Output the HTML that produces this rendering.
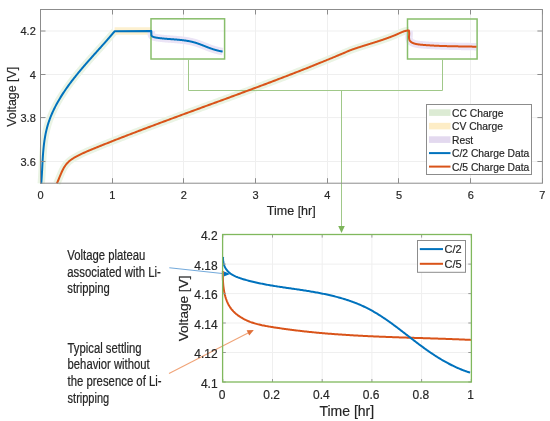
<!DOCTYPE html><html><head><meta charset="utf-8"><title>Voltage plot</title><style>html,body{margin:0;padding:0;background:#fff;}svg{display:block;}text{font-family:'Liberation Sans', Arial, Helvetica, sans-serif;fill:#262626;stroke:#262626;stroke-width:0.18px;} .ann text{stroke-width:0.22px;}</style></head><body>
<svg width="550" height="421" viewBox="0 0 550 421">
<rect x="0" y="0" width="550" height="421" fill="#fff"/>
<path d="M112.5,9.5 V183.2 M183.5,9.5 V183.2 M255.5,9.5 V183.2 M327.5,9.5 V183.2 M398.5,9.5 V183.2 M470.5,9.5 V183.2 M40.5,161.5 H542.4 M40.5,117.6 H542.4 M40.5,74.5 H542.4 M40.5,31.0 H542.4" stroke="#efefef" stroke-width="1" fill="none"/>
<g fill="none" stroke-linejoin="round" stroke-linecap="butt" stroke-width="7.4">
<path d="M41.23,183.55 L41.30,182.69 L41.37,181.83 L41.44,180.96 L41.50,180.09 L41.56,179.22 L41.62,178.35 L41.68,177.48 L41.73,176.61 L41.79,175.73 L41.84,174.86 L41.89,173.98 L41.94,173.10 L41.99,172.22 L42.03,171.35 L42.08,170.46 L42.13,169.58 L42.17,168.70 L42.22,167.82 L42.26,166.94 L42.31,166.05 L42.36,165.17 L42.40,164.28 L42.45,163.40 L42.50,162.51 L42.55,161.63 L42.60,160.74 L42.65,159.86 L42.70,158.97 L42.76,158.08 L42.81,157.20 L42.87,156.31 L42.93,155.43 L43.00,154.54 L43.06,153.66 L43.13,152.77 L43.20,151.89 L43.28,151.01 L43.36,150.12 L43.44,149.24 L43.52,148.36 L43.61,147.48 L43.70,146.60 L43.80,145.72 L43.90,144.84 L44.00,143.96 L44.11,143.09 L44.23,142.21 L44.35,141.34 L44.47,140.46 L44.60,139.59 L44.74,138.72 L44.88,137.85 L45.03,136.99 L45.18,136.12 L45.34,135.26 L45.50,134.39 L45.67,133.53 L45.85,132.67 L46.04,131.82 L46.23,130.96 L46.43,130.11 L46.63,129.26 L46.85,128.41 L47.07,127.56 L47.30,126.72 L47.53,125.87 L47.78,125.03 L48.03,124.20 L48.29,123.36 L48.56,122.53 L48.84,121.70 L49.12,120.87 L49.42,120.04 L49.72,119.22 L50.02,118.40 L50.34,117.58 L50.66,116.76 L50.99,115.95 L51.32,115.14 L51.66,114.33 L52.01,113.52 L52.37,112.72 L52.73,111.91 L53.09,111.11 L53.47,110.32 L53.85,109.52 L54.23,108.73 L54.63,107.94 L55.02,107.15 L55.43,106.37 L55.83,105.59 L56.25,104.81 L56.67,104.03 L57.09,103.25 L57.52,102.48 L57.96,101.71 L58.40,100.94 L58.84,100.18 L59.29,99.42 L59.74,98.66 L60.20,97.90 L60.66,97.14 L61.13,96.39 L61.60,95.64 L62.07,94.90 L62.55,94.15 L63.03,93.41 L63.52,92.67 L64.01,91.93 L64.50,91.20 L64.99,90.47 L65.49,89.74 L65.99,89.01 L66.50,88.29 L67.01,87.56 L67.52,86.85 L68.03,86.13 L68.55,85.41 L69.07,84.70 L69.59,83.99 L70.11,83.28 L70.64,82.58 L71.17,81.88 L71.70,81.17 L72.24,80.47 L72.77,79.78 L73.31,79.08 L73.86,78.39 L74.40,77.70 L74.95,77.01 L75.49,76.32 L76.05,75.63 L76.60,74.95 L77.15,74.26 L77.71,73.58 L78.27,72.90 L78.83,72.22 L79.39,71.55 L79.95,70.87 L80.52,70.19 L81.08,69.52 L81.65,68.85 L82.22,68.18 L82.79,67.51 L83.36,66.84 L83.94,66.17 L84.51,65.51 L85.09,64.84 L85.67,64.18 L86.24,63.51 L86.82,62.85 L87.40,62.19 L87.98,61.53 L88.57,60.87 L89.15,60.21 L89.73,59.55 L90.32,58.89 L90.90,58.23 L91.49,57.57 L92.07,56.91 L92.66,56.26 L93.25,55.60 L93.83,54.94 L94.42,54.29 L95.01,53.63 L95.60,52.98 L96.19,52.32 L96.77,51.67 L97.36,51.01 L97.95,50.36 L98.54,49.70 L99.13,49.04 L99.72,48.39 L100.30,47.73 L100.89,47.08 L101.48,46.42 L102.06,45.76 L102.65,45.11 L103.24,44.45 L103.82,43.79 L104.41,43.13 L104.99,42.47 L105.57,41.81 L106.16,41.15 L106.74,40.49 L107.32,39.83 L107.90,39.17 L108.48,38.50 L109.05,37.84 L109.63,37.17 L110.21,36.51 L110.78,35.84 L111.35,35.17 L111.92,34.50 L112.49,33.83 L113.06,33.16 L113.63,32.49 L114.20,31.81 L114.76,31.14" stroke="#eaf4e4"/>
<path d="M56.82,183.41 L57.50,181.98 L58.16,180.50 L58.80,178.99 L59.43,177.45 L60.07,175.90 L60.71,174.34 L61.38,172.78 L62.08,171.25 L62.82,169.74 L63.60,168.27 L64.45,166.85 L65.36,165.49 L66.35,164.20 L67.41,162.98 L68.55,161.84 L69.76,160.77 L71.04,159.78 L72.38,158.86 L73.77,157.99 L75.19,157.17 L76.64,156.38 L78.09,155.62 L79.56,154.87 L81.04,154.15 L82.52,153.44 L84.02,152.75 L85.52,152.07 L87.02,151.41 L88.54,150.76 L90.06,150.11 L91.58,149.48 L93.10,148.85 L94.63,148.23 L96.16,147.61 L97.69,146.99 L99.22,146.38 L100.75,145.76 L102.28,145.15 L103.81,144.54 L105.34,143.93 L106.88,143.32 L108.41,142.71 L109.94,142.11 L111.48,141.50 L113.01,140.90 L114.55,140.29 L116.08,139.69 L117.62,139.09 L119.15,138.49 L120.69,137.90 L122.22,137.30 L123.76,136.70 L125.30,136.11 L126.84,135.52 L128.37,134.92 L129.91,134.33 L131.45,133.74 L132.99,133.15 L134.53,132.56 L136.07,131.98 L137.61,131.39 L139.15,130.80 L140.69,130.22 L142.23,129.63 L143.77,129.05 L145.31,128.47 L146.85,127.89 L148.39,127.31 L149.94,126.73 L151.48,126.15 L153.02,125.57 L154.56,124.99 L156.11,124.41 L157.65,123.84 L159.19,123.26 L160.74,122.68 L162.28,122.11 L163.82,121.54 L165.37,120.96 L166.91,120.39 L168.46,119.82 L170.00,119.24 L171.55,118.67 L173.09,118.10 L174.64,117.53 L176.18,116.96 L177.73,116.39 L179.27,115.82 L180.82,115.25 L182.36,114.68 L183.91,114.12 L185.45,113.55 L187.00,112.98 L188.55,112.41 L190.09,111.84 L191.64,111.28 L193.19,110.71 L194.73,110.14 L196.28,109.58 L197.82,109.01 L199.37,108.45 L200.92,107.88 L202.46,107.31 L204.01,106.75 L205.56,106.18 L207.10,105.62 L208.65,105.05 L210.19,104.48 L211.74,103.92 L213.29,103.35 L214.83,102.79 L216.38,102.22 L217.93,101.65 L219.47,101.09 L221.02,100.52 L222.56,99.95 L224.11,99.39 L225.66,98.82 L227.20,98.25 L228.75,97.69 L230.29,97.12 L231.84,96.55 L233.38,95.98 L234.93,95.41 L236.47,94.84 L238.02,94.27 L239.56,93.70 L241.11,93.13 L242.65,92.56 L244.20,91.99 L245.74,91.42 L247.28,90.85 L248.83,90.28 L250.37,89.70 L251.92,89.13 L253.46,88.56 L255.00,87.98 L256.54,87.41 L258.09,86.83 L259.63,86.25 L261.17,85.68 L262.71,85.10 L264.25,84.52 L265.80,83.94 L267.34,83.36 L268.88,82.78 L270.42,82.20 L271.96,81.61 L273.50,81.03 L275.04,80.45 L276.58,79.86 L278.11,79.28 L279.65,78.69 L281.19,78.10 L282.73,77.51 L284.27,76.92 L285.80,76.33 L287.34,75.74 L288.88,75.15 L290.41,74.55 L291.95,73.96 L293.49,73.36 L295.02,72.77 L296.55,72.17 L298.09,71.57 L299.62,70.97 L301.16,70.37 L302.69,69.77 L304.22,69.16 L305.75,68.56 L307.29,67.95 L308.82,67.34 L310.35,66.73 L311.88,66.12 L313.41,65.51 L314.94,64.90 L316.47,64.28 L317.99,63.67 L319.52,63.05 L321.05,62.43 L322.58,61.81 L324.10,61.19 L325.63,60.57 L327.15,59.94 L328.68,59.32 L330.20,58.69 L331.73,58.06 L333.25,57.43 L334.77,56.80 L336.29,56.16 L337.82,55.53 L339.34,54.89 L340.86,54.25 L342.38,53.61 L343.90,52.97 L345.41,52.32 L346.93,51.68 L348.45,51.03 L349.96,50.38 L350.25,50.25 L350.55,50.14 L350.84,50.04 L351.13,49.93 L351.43,49.83 L351.72,49.72 L352.02,49.62 L352.31,49.51 L352.61,49.41 L352.90,49.31 L353.20,49.21 L353.49,49.10 L353.79,49.00 L354.09,48.90 L354.38,48.80 L354.68,48.70 L354.98,48.60 L355.27,48.50 L355.57,48.40 L355.87,48.30 L356.16,48.20 L356.46,48.10 L356.76,48.00 L357.05,47.90 L357.35,47.80 L357.65,47.70 L357.95,47.61 L358.25,47.51 L358.54,47.41 L358.84,47.32 L359.14,47.22 L359.44,47.12 L359.74,47.03 L360.04,46.93 L360.33,46.84 L360.63,46.74 L360.93,46.64 L361.23,46.55 L361.53,46.45 L361.83,46.36 L362.13,46.27 L362.43,46.17 L362.73,46.08 L363.03,45.98 L363.33,45.89 L363.63,45.79 L363.93,45.70 L364.22,45.61 L364.52,45.51 L364.82,45.42 L365.12,45.33 L365.42,45.23 L365.72,45.14 L366.02,45.05 L366.32,44.95 L366.62,44.86 L366.92,44.77 L367.22,44.68 L367.52,44.58 L367.82,44.49 L368.12,44.40 L368.42,44.30 L368.72,44.21 L369.02,44.12 L369.33,44.03 L369.63,43.93 L369.93,43.84 L370.23,43.75 L370.53,43.65 L370.83,43.56 L371.13,43.47 L371.43,43.38 L371.73,43.28 L372.03,43.19 L372.33,43.10 L372.63,43.00 L372.93,42.91 L373.23,42.82 L373.53,42.72 L373.83,42.63 L374.13,42.54 L374.43,42.44 L374.73,42.35 L375.03,42.25 L375.33,42.16 L375.63,42.06 L375.93,41.97 L376.22,41.87 L376.52,41.78 L376.82,41.68 L377.12,41.59 L377.42,41.49 L377.72,41.40 L378.02,41.30 L378.32,41.20 L378.62,41.11 L378.92,41.01 L379.22,40.91 L379.51,40.82 L379.81,40.72 L380.11,40.62 L380.41,40.52 L380.71,40.42 L381.01,40.33 L381.30,40.23 L381.60,40.13 L381.90,40.03 L382.20,39.93 L382.50,39.83 L382.79,39.73 L383.09,39.63 L383.39,39.52 L383.68,39.42 L383.98,39.32 L384.28,39.22 L384.57,39.12 L384.87,39.01 L385.17,38.91 L385.46,38.80 L385.76,38.70 L386.06,38.60 L386.35,38.49 L386.65,38.38 L386.94,38.28 L387.24,38.17 L387.53,38.07 L387.83,37.96 L388.12,37.85 L388.42,37.74 L388.71,37.63 L389.00,37.52 L389.30,37.41 L389.59,37.30 L389.88,37.19 L390.18,37.08 L390.47,36.97 L390.76,36.86 L391.06,36.74 L391.35,36.63 L391.64,36.52 L391.93,36.40 L392.22,36.29 L392.52,36.17 L392.81,36.05 L393.10,35.94 L393.39,35.82 L393.68,35.70 L393.97,35.58 L394.26,35.46 L394.55,35.34 L394.84,35.22 L395.13,35.10 L395.42,34.98 L395.71,34.86 L396.00,34.73 L396.28,34.61 L396.57,34.49 L396.86,34.36 L397.15,34.23 L397.43,34.11 L397.72,33.98 L398.01,33.85 L398.29,33.72 L398.58,33.59 L398.87,33.46 L399.15,33.33 L399.44,33.20 L399.72,33.07 L400.01,32.94 L400.29,32.81 L400.58,32.68 L400.87,32.56 L401.15,32.43 L401.44,32.31 L401.72,32.19 L402.01,32.07 L402.30,31.95 L402.59,31.83 L402.88,31.72 L403.17,31.61 L403.46,31.51 L403.75,31.41 L404.05,31.31 L404.34,31.22 L404.64,31.13 L404.93,31.05 L405.23,30.97 L405.53,30.90 L405.83,30.84 L406.13,30.78 L406.44,30.72 L406.74,30.68 L407.05,30.64 L407.36,30.60 L407.67,30.58 L407.98,30.56 L408.30,30.55 L408.62,30.55 L408.94,30.55" stroke="#eaf4e4"/>
<path d="M114.6,31 H151.3" stroke="#fdf0cf"/>
<path d="M151.30,31.00 L151.38,34.50 L151.37,34.70 L151.37,34.89 L151.40,35.08 L151.45,35.26 L151.52,35.43 L151.60,35.59 L151.70,35.75 L151.82,35.90 L151.95,36.04 L152.10,36.17 L152.26,36.30 L152.44,36.42 L152.63,36.54 L152.83,36.65 L153.04,36.75 L153.27,36.85 L153.50,36.94 L153.74,37.03 L154.00,37.11 L154.26,37.19 L154.53,37.26 L154.80,37.33 L155.09,37.40 L155.37,37.46 L155.67,37.52 L155.97,37.57 L156.27,37.63 L156.57,37.68 L156.88,37.73 L157.18,37.78 L157.49,37.82 L157.80,37.87 L158.11,37.91 L158.42,37.96 L158.73,38.00 L159.03,38.04 L159.34,38.08 L159.65,38.12 L159.96,38.16 L160.27,38.20 L160.58,38.23 L160.88,38.27 L161.19,38.30 L161.50,38.34 L161.81,38.37 L162.11,38.40 L162.42,38.44 L162.73,38.47 L163.04,38.50 L163.34,38.53 L163.65,38.56 L163.96,38.59 L164.27,38.62 L164.57,38.64 L164.88,38.67 L165.19,38.70 L165.50,38.72 L165.80,38.75 L166.11,38.78 L166.42,38.80 L166.73,38.83 L167.03,38.85 L167.34,38.88 L167.65,38.90 L167.96,38.92 L168.27,38.95 L168.57,38.97 L168.88,38.99 L169.19,39.02 L169.50,39.04 L169.81,39.06 L170.12,39.09 L170.42,39.11 L170.73,39.13 L171.04,39.15 L171.35,39.18 L171.66,39.20 L171.97,39.22 L172.28,39.24 L172.59,39.27 L172.90,39.29 L173.21,39.31 L173.52,39.34 L173.83,39.36 L174.15,39.39 L174.46,39.41 L174.77,39.43 L175.08,39.46 L175.39,39.48 L175.71,39.51 L176.02,39.53 L176.33,39.56 L176.64,39.59 L176.96,39.61 L177.27,39.64 L177.58,39.67 L177.90,39.70 L178.21,39.73 L178.52,39.76 L178.84,39.79 L179.15,39.82 L179.46,39.85 L179.78,39.88 L180.09,39.91 L180.40,39.94 L180.71,39.98 L181.02,40.01 L181.34,40.04 L181.65,40.08 L181.96,40.12 L182.27,40.15 L182.58,40.19 L182.89,40.23 L183.20,40.27 L183.51,40.30 L183.82,40.34 L184.12,40.39 L184.43,40.43 L184.74,40.47 L185.04,40.51 L185.35,40.56 L185.65,40.60 L185.96,40.65 L186.26,40.69 L186.56,40.74 L186.86,40.79 L187.16,40.84 L187.46,40.89 L187.76,40.94 L188.06,40.99 L188.36,41.05 L188.66,41.10 L188.95,41.16 L189.25,41.21 L189.54,41.27 L189.83,41.33 L190.12,41.39 L190.41,41.45 L190.70,41.51 L190.99,41.57 L191.28,41.64 L191.56,41.70 L191.84,41.77 L192.13,41.84 L192.41,41.91 L192.69,41.98 L192.97,42.05 L193.24,42.12 L193.52,42.19 L193.80,42.27 L194.07,42.35 L194.34,42.42 L194.61,42.50 L194.88,42.58 L195.15,42.66 L195.42,42.74 L195.69,42.82 L195.95,42.90 L196.22,42.99 L196.48,43.07 L196.75,43.16 L197.01,43.24 L197.27,43.33 L197.53,43.42 L197.79,43.51 L198.05,43.60 L198.31,43.69 L198.57,43.78 L198.82,43.87 L199.08,43.96 L199.33,44.05 L199.59,44.15 L199.84,44.24 L200.10,44.33 L200.35,44.43 L200.60,44.52 L200.86,44.62 L201.11,44.71 L201.36,44.81 L201.61,44.91 L201.86,45.00 L202.11,45.10 L202.37,45.20 L202.62,45.29 L202.87,45.39 L203.12,45.49 L203.37,45.59 L203.62,45.69 L203.86,45.79 L204.11,45.88 L204.36,45.98 L204.61,46.08 L204.86,46.18 L205.11,46.28 L205.36,46.38 L205.61,46.48 L205.86,46.57 L206.11,46.67 L206.36,46.77 L206.61,46.87 L206.86,46.97 L207.11,47.06 L207.36,47.16 L207.62,47.26 L207.87,47.35 L208.12,47.45 L208.37,47.55 L208.63,47.64 L208.88,47.74 L209.13,47.83 L209.39,47.93 L209.64,48.02 L209.90,48.12 L210.15,48.21 L210.41,48.30 L210.67,48.39 L210.93,48.48 L211.19,48.57 L211.45,48.66 L211.71,48.75 L211.97,48.84 L212.23,48.93 L212.49,49.02 L212.76,49.11 L213.02,49.19 L213.29,49.28 L213.55,49.36 L213.82,49.45 L214.09,49.53 L214.36,49.61 L214.63,49.69 L214.90,49.77 L215.17,49.85 L215.44,49.93 L215.72,50.01 L215.99,50.09 L216.27,50.16 L216.54,50.24 L216.82,50.31 L217.10,50.38 L217.38,50.46 L217.66,50.53 L217.95,50.60 L218.23,50.66 L218.52,50.73 L218.80,50.80 L219.09,50.86 L219.38,50.93 L219.67,50.99 L219.96,51.05 L220.26,51.11 L220.55,51.17 L220.85,51.23 L221.15,51.29 L221.45,51.34 L221.75,51.40 L222.05,51.45 L222.35,51.50 L222.66,51.55" stroke="#ebe4f6"/>
<path d="M409.00,30.80 L409.20,33.50 L409.02,36.58 L409.01,36.71 L409.01,36.85 L409.01,36.98 L409.00,37.12 L409.01,37.26 L409.01,37.39 L409.01,37.53 L409.02,37.68 L409.03,37.82 L409.04,37.96 L409.05,38.10 L409.07,38.24 L409.09,38.39 L409.11,38.53 L409.13,38.68 L409.16,38.82 L409.19,38.96 L409.23,39.11 L409.26,39.25 L409.30,39.39 L409.35,39.54 L409.40,39.68 L409.45,39.82 L409.51,39.96 L409.57,40.10 L409.64,40.24 L409.71,40.37 L409.78,40.51 L409.86,40.64 L409.95,40.77 L410.04,40.91 L410.13,41.04 L410.23,41.16 L410.34,41.29 L410.45,41.41 L410.57,41.53 L410.69,41.65 L410.82,41.77 L410.96,41.89 L411.10,42.00 L411.25,42.11 L411.40,42.22 L411.56,42.32 L411.73,42.42 L411.90,42.52 L412.08,42.62 L412.26,42.71 L412.45,42.81 L412.64,42.89 L412.83,42.98 L413.03,43.07 L413.24,43.15 L413.45,43.23 L413.66,43.31 L413.87,43.38 L414.09,43.46 L414.31,43.53 L414.54,43.59 L414.77,43.66 L415.00,43.72 L415.23,43.79 L415.46,43.85 L415.70,43.90 L415.94,43.96 L416.18,44.01 L416.42,44.06 L416.66,44.11 L416.91,44.16 L417.15,44.20 L417.40,44.24 L417.64,44.29 L417.89,44.32 L418.14,44.36 L418.39,44.40 L418.64,44.43 L418.89,44.47 L419.15,44.50 L419.40,44.53 L419.65,44.56 L419.91,44.59 L420.16,44.62 L420.42,44.64 L420.68,44.67 L420.93,44.70 L421.19,44.72 L421.45,44.74 L421.70,44.77 L421.96,44.79 L422.22,44.81 L422.48,44.84 L422.73,44.86 L422.99,44.88 L423.25,44.90 L423.51,44.92 L423.77,44.94 L424.02,44.97 L424.28,44.99 L424.54,45.01 L424.80,45.03 L425.05,45.05 L425.31,45.07 L425.57,45.09 L425.83,45.11 L426.09,45.13 L426.34,45.14 L426.60,45.16 L426.86,45.18 L427.12,45.20 L427.37,45.22 L427.63,45.24 L427.89,45.25 L428.15,45.27 L428.41,45.29 L428.66,45.31 L428.92,45.32 L429.18,45.34 L429.44,45.36 L429.69,45.37 L429.95,45.39 L430.21,45.41 L430.47,45.42 L430.73,45.44 L430.98,45.45 L431.24,45.47 L431.50,45.48 L431.76,45.50 L432.02,45.51 L432.27,45.53 L432.53,45.54 L432.79,45.56 L433.05,45.57 L433.31,45.59 L433.56,45.60 L433.82,45.61 L434.08,45.63 L434.34,45.64 L434.60,45.65 L434.85,45.67 L435.11,45.68 L435.37,45.69 L435.63,45.70 L435.89,45.72 L436.14,45.73 L436.40,45.74 L436.66,45.75 L436.92,45.77 L437.18,45.78 L437.43,45.79 L437.69,45.80 L437.95,45.81 L438.21,45.82 L438.47,45.83 L438.72,45.84 L438.98,45.85 L439.24,45.87 L439.50,45.88 L439.76,45.89 L440.01,45.90 L440.27,45.91 L440.53,45.92 L440.79,45.93 L441.05,45.94 L441.30,45.94 L441.56,45.95 L441.82,45.96 L442.08,45.97 L442.34,45.98 L442.60,45.99 L442.85,46.00 L443.11,46.01 L443.37,46.02 L443.63,46.03 L443.89,46.03 L444.14,46.04 L444.40,46.05 L444.66,46.06 L444.92,46.07 L445.18,46.07 L445.44,46.08 L445.69,46.09 L445.95,46.10 L446.21,46.10 L446.47,46.11 L446.73,46.12 L446.99,46.13 L447.24,46.13 L447.50,46.14 L447.76,46.15 L448.02,46.15 L448.28,46.16 L448.54,46.17 L448.79,46.17 L449.05,46.18 L449.31,46.19 L449.57,46.19 L449.83,46.20 L450.09,46.21 L450.34,46.21 L450.60,46.22 L450.86,46.22 L451.12,46.23 L451.38,46.24 L451.64,46.24 L451.89,46.25 L452.15,46.25 L452.41,46.26 L452.67,46.26 L452.93,46.27 L453.19,46.28 L453.45,46.28 L453.70,46.29 L453.96,46.29 L454.22,46.30 L454.48,46.30 L454.74,46.31 L455.00,46.31 L455.26,46.32 L455.51,46.32 L455.77,46.33 L456.03,46.33 L456.29,46.34 L456.55,46.34 L456.81,46.35 L457.07,46.35 L457.32,46.36 L457.58,46.36 L457.84,46.37 L458.10,46.37 L458.36,46.38 L458.62,46.38 L458.88,46.38 L459.14,46.39 L459.39,46.39 L459.65,46.40 L459.91,46.40 L460.17,46.41 L460.43,46.41 L460.69,46.42 L460.95,46.42 L461.21,46.43 L461.46,46.43 L461.72,46.43 L461.98,46.44 L462.24,46.44 L462.50,46.45 L462.76,46.45 L463.02,46.46 L463.28,46.46 L463.54,46.47 L463.79,46.47 L464.05,46.47 L464.31,46.48 L464.57,46.48 L464.83,46.49 L465.09,46.49 L465.35,46.50 L465.61,46.50 L465.87,46.51 L466.13,46.51 L466.38,46.52 L466.64,46.52 L466.90,46.52 L467.16,46.53 L467.42,46.53 L467.68,46.54 L467.94,46.54 L468.20,46.55 L468.46,46.55 L468.72,46.56 L468.98,46.56 L469.23,46.57 L469.49,46.57 L469.75,46.58 L470.01,46.58 L470.27,46.59 L470.53,46.59 L470.79,46.60 L471.05,46.60 L471.31,46.61 L471.57,46.61 L471.83,46.62 L472.09,46.62 L472.35,46.63 L472.61,46.64 L472.86,46.64 L473.12,46.65 L473.38,46.65 L473.64,46.66 L473.90,46.66 L474.16,46.67 L474.42,46.68 L474.68,46.68 L474.94,46.69 L475.20,46.69 L475.46,46.70 L475.72,46.71 L475.98,46.71 L476.24,46.72 L476.50,46.73" stroke="#ebe4f6"/>
</g>
<g fill="none" stroke="#88be6b">
<rect x="151" y="18.8" width="73.6" height="40.2" stroke-width="1.5"/>
<rect x="407.5" y="19.0" width="69.6" height="40" stroke-width="1.5"/>
<path d="M188.5,59.8 V90.5 H442.5 V59.8 M341.5,90.5 V227" stroke-width="1" stroke="#a0c889"/>
</g>
<g fill="none" stroke-linejoin="round" stroke-width="2">
<path d="M41.23,183.55 L41.30,182.69 L41.37,181.83 L41.44,180.96 L41.50,180.09 L41.56,179.22 L41.62,178.35 L41.68,177.48 L41.73,176.61 L41.79,175.73 L41.84,174.86 L41.89,173.98 L41.94,173.10 L41.99,172.22 L42.03,171.35 L42.08,170.46 L42.13,169.58 L42.17,168.70 L42.22,167.82 L42.26,166.94 L42.31,166.05 L42.36,165.17 L42.40,164.28 L42.45,163.40 L42.50,162.51 L42.55,161.63 L42.60,160.74 L42.65,159.86 L42.70,158.97 L42.76,158.08 L42.81,157.20 L42.87,156.31 L42.93,155.43 L43.00,154.54 L43.06,153.66 L43.13,152.77 L43.20,151.89 L43.28,151.01 L43.36,150.12 L43.44,149.24 L43.52,148.36 L43.61,147.48 L43.70,146.60 L43.80,145.72 L43.90,144.84 L44.00,143.96 L44.11,143.09 L44.23,142.21 L44.35,141.34 L44.47,140.46 L44.60,139.59 L44.74,138.72 L44.88,137.85 L45.03,136.99 L45.18,136.12 L45.34,135.26 L45.50,134.39 L45.67,133.53 L45.85,132.67 L46.04,131.82 L46.23,130.96 L46.43,130.11 L46.63,129.26 L46.85,128.41 L47.07,127.56 L47.30,126.72 L47.53,125.87 L47.78,125.03 L48.03,124.20 L48.29,123.36 L48.56,122.53 L48.84,121.70 L49.12,120.87 L49.42,120.04 L49.72,119.22 L50.02,118.40 L50.34,117.58 L50.66,116.76 L50.99,115.95 L51.32,115.14 L51.66,114.33 L52.01,113.52 L52.37,112.72 L52.73,111.91 L53.09,111.11 L53.47,110.32 L53.85,109.52 L54.23,108.73 L54.63,107.94 L55.02,107.15 L55.43,106.37 L55.83,105.59 L56.25,104.81 L56.67,104.03 L57.09,103.25 L57.52,102.48 L57.96,101.71 L58.40,100.94 L58.84,100.18 L59.29,99.42 L59.74,98.66 L60.20,97.90 L60.66,97.14 L61.13,96.39 L61.60,95.64 L62.07,94.90 L62.55,94.15 L63.03,93.41 L63.52,92.67 L64.01,91.93 L64.50,91.20 L64.99,90.47 L65.49,89.74 L65.99,89.01 L66.50,88.29 L67.01,87.56 L67.52,86.85 L68.03,86.13 L68.55,85.41 L69.07,84.70 L69.59,83.99 L70.11,83.28 L70.64,82.58 L71.17,81.88 L71.70,81.17 L72.24,80.47 L72.77,79.78 L73.31,79.08 L73.86,78.39 L74.40,77.70 L74.95,77.01 L75.49,76.32 L76.05,75.63 L76.60,74.95 L77.15,74.26 L77.71,73.58 L78.27,72.90 L78.83,72.22 L79.39,71.55 L79.95,70.87 L80.52,70.19 L81.08,69.52 L81.65,68.85 L82.22,68.18 L82.79,67.51 L83.36,66.84 L83.94,66.17 L84.51,65.51 L85.09,64.84 L85.67,64.18 L86.24,63.51 L86.82,62.85 L87.40,62.19 L87.98,61.53 L88.57,60.87 L89.15,60.21 L89.73,59.55 L90.32,58.89 L90.90,58.23 L91.49,57.57 L92.07,56.91 L92.66,56.26 L93.25,55.60 L93.83,54.94 L94.42,54.29 L95.01,53.63 L95.60,52.98 L96.19,52.32 L96.77,51.67 L97.36,51.01 L97.95,50.36 L98.54,49.70 L99.13,49.04 L99.72,48.39 L100.30,47.73 L100.89,47.08 L101.48,46.42 L102.06,45.76 L102.65,45.11 L103.24,44.45 L103.82,43.79 L104.41,43.13 L104.99,42.47 L105.57,41.81 L106.16,41.15 L106.74,40.49 L107.32,39.83 L107.90,39.17 L108.48,38.50 L109.05,37.84 L109.63,37.17 L110.21,36.51 L110.78,35.84 L111.35,35.17 L111.92,34.50 L112.49,33.83 L113.06,33.16 L113.63,32.49 L114.20,31.81 L114.76,31.14 L151.30,31.00 L151.38,34.50 L151.37,34.70 L151.37,34.89 L151.40,35.08 L151.45,35.26 L151.52,35.43 L151.60,35.59 L151.70,35.75 L151.82,35.90 L151.95,36.04 L152.10,36.17 L152.26,36.30 L152.44,36.42 L152.63,36.54 L152.83,36.65 L153.04,36.75 L153.27,36.85 L153.50,36.94 L153.74,37.03 L154.00,37.11 L154.26,37.19 L154.53,37.26 L154.80,37.33 L155.09,37.40 L155.37,37.46 L155.67,37.52 L155.97,37.57 L156.27,37.63 L156.57,37.68 L156.88,37.73 L157.18,37.78 L157.49,37.82 L157.80,37.87 L158.11,37.91 L158.42,37.96 L158.73,38.00 L159.03,38.04 L159.34,38.08 L159.65,38.12 L159.96,38.16 L160.27,38.20 L160.58,38.23 L160.88,38.27 L161.19,38.30 L161.50,38.34 L161.81,38.37 L162.11,38.40 L162.42,38.44 L162.73,38.47 L163.04,38.50 L163.34,38.53 L163.65,38.56 L163.96,38.59 L164.27,38.62 L164.57,38.64 L164.88,38.67 L165.19,38.70 L165.50,38.72 L165.80,38.75 L166.11,38.78 L166.42,38.80 L166.73,38.83 L167.03,38.85 L167.34,38.88 L167.65,38.90 L167.96,38.92 L168.27,38.95 L168.57,38.97 L168.88,38.99 L169.19,39.02 L169.50,39.04 L169.81,39.06 L170.12,39.09 L170.42,39.11 L170.73,39.13 L171.04,39.15 L171.35,39.18 L171.66,39.20 L171.97,39.22 L172.28,39.24 L172.59,39.27 L172.90,39.29 L173.21,39.31 L173.52,39.34 L173.83,39.36 L174.15,39.39 L174.46,39.41 L174.77,39.43 L175.08,39.46 L175.39,39.48 L175.71,39.51 L176.02,39.53 L176.33,39.56 L176.64,39.59 L176.96,39.61 L177.27,39.64 L177.58,39.67 L177.90,39.70 L178.21,39.73 L178.52,39.76 L178.84,39.79 L179.15,39.82 L179.46,39.85 L179.78,39.88 L180.09,39.91 L180.40,39.94 L180.71,39.98 L181.02,40.01 L181.34,40.04 L181.65,40.08 L181.96,40.12 L182.27,40.15 L182.58,40.19 L182.89,40.23 L183.20,40.27 L183.51,40.30 L183.82,40.34 L184.12,40.39 L184.43,40.43 L184.74,40.47 L185.04,40.51 L185.35,40.56 L185.65,40.60 L185.96,40.65 L186.26,40.69 L186.56,40.74 L186.86,40.79 L187.16,40.84 L187.46,40.89 L187.76,40.94 L188.06,40.99 L188.36,41.05 L188.66,41.10 L188.95,41.16 L189.25,41.21 L189.54,41.27 L189.83,41.33 L190.12,41.39 L190.41,41.45 L190.70,41.51 L190.99,41.57 L191.28,41.64 L191.56,41.70 L191.84,41.77 L192.13,41.84 L192.41,41.91 L192.69,41.98 L192.97,42.05 L193.24,42.12 L193.52,42.19 L193.80,42.27 L194.07,42.35 L194.34,42.42 L194.61,42.50 L194.88,42.58 L195.15,42.66 L195.42,42.74 L195.69,42.82 L195.95,42.90 L196.22,42.99 L196.48,43.07 L196.75,43.16 L197.01,43.24 L197.27,43.33 L197.53,43.42 L197.79,43.51 L198.05,43.60 L198.31,43.69 L198.57,43.78 L198.82,43.87 L199.08,43.96 L199.33,44.05 L199.59,44.15 L199.84,44.24 L200.10,44.33 L200.35,44.43 L200.60,44.52 L200.86,44.62 L201.11,44.71 L201.36,44.81 L201.61,44.91 L201.86,45.00 L202.11,45.10 L202.37,45.20 L202.62,45.29 L202.87,45.39 L203.12,45.49 L203.37,45.59 L203.62,45.69 L203.86,45.79 L204.11,45.88 L204.36,45.98 L204.61,46.08 L204.86,46.18 L205.11,46.28 L205.36,46.38 L205.61,46.48 L205.86,46.57 L206.11,46.67 L206.36,46.77 L206.61,46.87 L206.86,46.97 L207.11,47.06 L207.36,47.16 L207.62,47.26 L207.87,47.35 L208.12,47.45 L208.37,47.55 L208.63,47.64 L208.88,47.74 L209.13,47.83 L209.39,47.93 L209.64,48.02 L209.90,48.12 L210.15,48.21 L210.41,48.30 L210.67,48.39 L210.93,48.48 L211.19,48.57 L211.45,48.66 L211.71,48.75 L211.97,48.84 L212.23,48.93 L212.49,49.02 L212.76,49.11 L213.02,49.19 L213.29,49.28 L213.55,49.36 L213.82,49.45 L214.09,49.53 L214.36,49.61 L214.63,49.69 L214.90,49.77 L215.17,49.85 L215.44,49.93 L215.72,50.01 L215.99,50.09 L216.27,50.16 L216.54,50.24 L216.82,50.31 L217.10,50.38 L217.38,50.46 L217.66,50.53 L217.95,50.60 L218.23,50.66 L218.52,50.73 L218.80,50.80 L219.09,50.86 L219.38,50.93 L219.67,50.99 L219.96,51.05 L220.26,51.11 L220.55,51.17 L220.85,51.23 L221.15,51.29 L221.45,51.34 L221.75,51.40 L222.05,51.45 L222.35,51.50 L222.66,51.55" stroke="#0072BD"/>
<path d="M56.82,183.41 L57.50,181.98 L58.16,180.50 L58.80,178.99 L59.43,177.45 L60.07,175.90 L60.71,174.34 L61.38,172.78 L62.08,171.25 L62.82,169.74 L63.60,168.27 L64.45,166.85 L65.36,165.49 L66.35,164.20 L67.41,162.98 L68.55,161.84 L69.76,160.77 L71.04,159.78 L72.38,158.86 L73.77,157.99 L75.19,157.17 L76.64,156.38 L78.09,155.62 L79.56,154.87 L81.04,154.15 L82.52,153.44 L84.02,152.75 L85.52,152.07 L87.02,151.41 L88.54,150.76 L90.06,150.11 L91.58,149.48 L93.10,148.85 L94.63,148.23 L96.16,147.61 L97.69,146.99 L99.22,146.38 L100.75,145.76 L102.28,145.15 L103.81,144.54 L105.34,143.93 L106.88,143.32 L108.41,142.71 L109.94,142.11 L111.48,141.50 L113.01,140.90 L114.55,140.29 L116.08,139.69 L117.62,139.09 L119.15,138.49 L120.69,137.90 L122.22,137.30 L123.76,136.70 L125.30,136.11 L126.84,135.52 L128.37,134.92 L129.91,134.33 L131.45,133.74 L132.99,133.15 L134.53,132.56 L136.07,131.98 L137.61,131.39 L139.15,130.80 L140.69,130.22 L142.23,129.63 L143.77,129.05 L145.31,128.47 L146.85,127.89 L148.39,127.31 L149.94,126.73 L151.48,126.15 L153.02,125.57 L154.56,124.99 L156.11,124.41 L157.65,123.84 L159.19,123.26 L160.74,122.68 L162.28,122.11 L163.82,121.54 L165.37,120.96 L166.91,120.39 L168.46,119.82 L170.00,119.24 L171.55,118.67 L173.09,118.10 L174.64,117.53 L176.18,116.96 L177.73,116.39 L179.27,115.82 L180.82,115.25 L182.36,114.68 L183.91,114.12 L185.45,113.55 L187.00,112.98 L188.55,112.41 L190.09,111.84 L191.64,111.28 L193.19,110.71 L194.73,110.14 L196.28,109.58 L197.82,109.01 L199.37,108.45 L200.92,107.88 L202.46,107.31 L204.01,106.75 L205.56,106.18 L207.10,105.62 L208.65,105.05 L210.19,104.48 L211.74,103.92 L213.29,103.35 L214.83,102.79 L216.38,102.22 L217.93,101.65 L219.47,101.09 L221.02,100.52 L222.56,99.95 L224.11,99.39 L225.66,98.82 L227.20,98.25 L228.75,97.69 L230.29,97.12 L231.84,96.55 L233.38,95.98 L234.93,95.41 L236.47,94.84 L238.02,94.27 L239.56,93.70 L241.11,93.13 L242.65,92.56 L244.20,91.99 L245.74,91.42 L247.28,90.85 L248.83,90.28 L250.37,89.70 L251.92,89.13 L253.46,88.56 L255.00,87.98 L256.54,87.41 L258.09,86.83 L259.63,86.25 L261.17,85.68 L262.71,85.10 L264.25,84.52 L265.80,83.94 L267.34,83.36 L268.88,82.78 L270.42,82.20 L271.96,81.61 L273.50,81.03 L275.04,80.45 L276.58,79.86 L278.11,79.28 L279.65,78.69 L281.19,78.10 L282.73,77.51 L284.27,76.92 L285.80,76.33 L287.34,75.74 L288.88,75.15 L290.41,74.55 L291.95,73.96 L293.49,73.36 L295.02,72.77 L296.55,72.17 L298.09,71.57 L299.62,70.97 L301.16,70.37 L302.69,69.77 L304.22,69.16 L305.75,68.56 L307.29,67.95 L308.82,67.34 L310.35,66.73 L311.88,66.12 L313.41,65.51 L314.94,64.90 L316.47,64.28 L317.99,63.67 L319.52,63.05 L321.05,62.43 L322.58,61.81 L324.10,61.19 L325.63,60.57 L327.15,59.94 L328.68,59.32 L330.20,58.69 L331.73,58.06 L333.25,57.43 L334.77,56.80 L336.29,56.16 L337.82,55.53 L339.34,54.89 L340.86,54.25 L342.38,53.61 L343.90,52.97 L345.41,52.32 L346.93,51.68 L348.45,51.03 L349.96,50.38 L350.25,50.25 L350.55,50.14 L350.84,50.04 L351.13,49.93 L351.43,49.83 L351.72,49.72 L352.02,49.62 L352.31,49.51 L352.61,49.41 L352.90,49.31 L353.20,49.21 L353.49,49.10 L353.79,49.00 L354.09,48.90 L354.38,48.80 L354.68,48.70 L354.98,48.60 L355.27,48.50 L355.57,48.40 L355.87,48.30 L356.16,48.20 L356.46,48.10 L356.76,48.00 L357.05,47.90 L357.35,47.80 L357.65,47.70 L357.95,47.61 L358.25,47.51 L358.54,47.41 L358.84,47.32 L359.14,47.22 L359.44,47.12 L359.74,47.03 L360.04,46.93 L360.33,46.84 L360.63,46.74 L360.93,46.64 L361.23,46.55 L361.53,46.45 L361.83,46.36 L362.13,46.27 L362.43,46.17 L362.73,46.08 L363.03,45.98 L363.33,45.89 L363.63,45.79 L363.93,45.70 L364.22,45.61 L364.52,45.51 L364.82,45.42 L365.12,45.33 L365.42,45.23 L365.72,45.14 L366.02,45.05 L366.32,44.95 L366.62,44.86 L366.92,44.77 L367.22,44.68 L367.52,44.58 L367.82,44.49 L368.12,44.40 L368.42,44.30 L368.72,44.21 L369.02,44.12 L369.33,44.03 L369.63,43.93 L369.93,43.84 L370.23,43.75 L370.53,43.65 L370.83,43.56 L371.13,43.47 L371.43,43.38 L371.73,43.28 L372.03,43.19 L372.33,43.10 L372.63,43.00 L372.93,42.91 L373.23,42.82 L373.53,42.72 L373.83,42.63 L374.13,42.54 L374.43,42.44 L374.73,42.35 L375.03,42.25 L375.33,42.16 L375.63,42.06 L375.93,41.97 L376.22,41.87 L376.52,41.78 L376.82,41.68 L377.12,41.59 L377.42,41.49 L377.72,41.40 L378.02,41.30 L378.32,41.20 L378.62,41.11 L378.92,41.01 L379.22,40.91 L379.51,40.82 L379.81,40.72 L380.11,40.62 L380.41,40.52 L380.71,40.42 L381.01,40.33 L381.30,40.23 L381.60,40.13 L381.90,40.03 L382.20,39.93 L382.50,39.83 L382.79,39.73 L383.09,39.63 L383.39,39.52 L383.68,39.42 L383.98,39.32 L384.28,39.22 L384.57,39.12 L384.87,39.01 L385.17,38.91 L385.46,38.80 L385.76,38.70 L386.06,38.60 L386.35,38.49 L386.65,38.38 L386.94,38.28 L387.24,38.17 L387.53,38.07 L387.83,37.96 L388.12,37.85 L388.42,37.74 L388.71,37.63 L389.00,37.52 L389.30,37.41 L389.59,37.30 L389.88,37.19 L390.18,37.08 L390.47,36.97 L390.76,36.86 L391.06,36.74 L391.35,36.63 L391.64,36.52 L391.93,36.40 L392.22,36.29 L392.52,36.17 L392.81,36.05 L393.10,35.94 L393.39,35.82 L393.68,35.70 L393.97,35.58 L394.26,35.46 L394.55,35.34 L394.84,35.22 L395.13,35.10 L395.42,34.98 L395.71,34.86 L396.00,34.73 L396.28,34.61 L396.57,34.49 L396.86,34.36 L397.15,34.23 L397.43,34.11 L397.72,33.98 L398.01,33.85 L398.29,33.72 L398.58,33.59 L398.87,33.46 L399.15,33.33 L399.44,33.20 L399.72,33.07 L400.01,32.94 L400.29,32.81 L400.58,32.68 L400.87,32.56 L401.15,32.43 L401.44,32.31 L401.72,32.19 L402.01,32.07 L402.30,31.95 L402.59,31.83 L402.88,31.72 L403.17,31.61 L403.46,31.51 L403.75,31.41 L404.05,31.31 L404.34,31.22 L404.64,31.13 L404.93,31.05 L405.23,30.97 L405.53,30.90 L405.83,30.84 L406.13,30.78 L406.44,30.72 L406.74,30.68 L407.05,30.64 L407.36,30.60 L407.67,30.58 L407.98,30.56 L408.30,30.55 L408.62,30.55 L408.94,30.55 L409.00,30.80 L409.20,33.50 L409.02,36.58 L409.01,36.71 L409.01,36.85 L409.01,36.98 L409.00,37.12 L409.01,37.26 L409.01,37.39 L409.01,37.53 L409.02,37.68 L409.03,37.82 L409.04,37.96 L409.05,38.10 L409.07,38.24 L409.09,38.39 L409.11,38.53 L409.13,38.68 L409.16,38.82 L409.19,38.96 L409.23,39.11 L409.26,39.25 L409.30,39.39 L409.35,39.54 L409.40,39.68 L409.45,39.82 L409.51,39.96 L409.57,40.10 L409.64,40.24 L409.71,40.37 L409.78,40.51 L409.86,40.64 L409.95,40.77 L410.04,40.91 L410.13,41.04 L410.23,41.16 L410.34,41.29 L410.45,41.41 L410.57,41.53 L410.69,41.65 L410.82,41.77 L410.96,41.89 L411.10,42.00 L411.25,42.11 L411.40,42.22 L411.56,42.32 L411.73,42.42 L411.90,42.52 L412.08,42.62 L412.26,42.71 L412.45,42.81 L412.64,42.89 L412.83,42.98 L413.03,43.07 L413.24,43.15 L413.45,43.23 L413.66,43.31 L413.87,43.38 L414.09,43.46 L414.31,43.53 L414.54,43.59 L414.77,43.66 L415.00,43.72 L415.23,43.79 L415.46,43.85 L415.70,43.90 L415.94,43.96 L416.18,44.01 L416.42,44.06 L416.66,44.11 L416.91,44.16 L417.15,44.20 L417.40,44.24 L417.64,44.29 L417.89,44.32 L418.14,44.36 L418.39,44.40 L418.64,44.43 L418.89,44.47 L419.15,44.50 L419.40,44.53 L419.65,44.56 L419.91,44.59 L420.16,44.62 L420.42,44.64 L420.68,44.67 L420.93,44.70 L421.19,44.72 L421.45,44.74 L421.70,44.77 L421.96,44.79 L422.22,44.81 L422.48,44.84 L422.73,44.86 L422.99,44.88 L423.25,44.90 L423.51,44.92 L423.77,44.94 L424.02,44.97 L424.28,44.99 L424.54,45.01 L424.80,45.03 L425.05,45.05 L425.31,45.07 L425.57,45.09 L425.83,45.11 L426.09,45.13 L426.34,45.14 L426.60,45.16 L426.86,45.18 L427.12,45.20 L427.37,45.22 L427.63,45.24 L427.89,45.25 L428.15,45.27 L428.41,45.29 L428.66,45.31 L428.92,45.32 L429.18,45.34 L429.44,45.36 L429.69,45.37 L429.95,45.39 L430.21,45.41 L430.47,45.42 L430.73,45.44 L430.98,45.45 L431.24,45.47 L431.50,45.48 L431.76,45.50 L432.02,45.51 L432.27,45.53 L432.53,45.54 L432.79,45.56 L433.05,45.57 L433.31,45.59 L433.56,45.60 L433.82,45.61 L434.08,45.63 L434.34,45.64 L434.60,45.65 L434.85,45.67 L435.11,45.68 L435.37,45.69 L435.63,45.70 L435.89,45.72 L436.14,45.73 L436.40,45.74 L436.66,45.75 L436.92,45.77 L437.18,45.78 L437.43,45.79 L437.69,45.80 L437.95,45.81 L438.21,45.82 L438.47,45.83 L438.72,45.84 L438.98,45.85 L439.24,45.87 L439.50,45.88 L439.76,45.89 L440.01,45.90 L440.27,45.91 L440.53,45.92 L440.79,45.93 L441.05,45.94 L441.30,45.94 L441.56,45.95 L441.82,45.96 L442.08,45.97 L442.34,45.98 L442.60,45.99 L442.85,46.00 L443.11,46.01 L443.37,46.02 L443.63,46.03 L443.89,46.03 L444.14,46.04 L444.40,46.05 L444.66,46.06 L444.92,46.07 L445.18,46.07 L445.44,46.08 L445.69,46.09 L445.95,46.10 L446.21,46.10 L446.47,46.11 L446.73,46.12 L446.99,46.13 L447.24,46.13 L447.50,46.14 L447.76,46.15 L448.02,46.15 L448.28,46.16 L448.54,46.17 L448.79,46.17 L449.05,46.18 L449.31,46.19 L449.57,46.19 L449.83,46.20 L450.09,46.21 L450.34,46.21 L450.60,46.22 L450.86,46.22 L451.12,46.23 L451.38,46.24 L451.64,46.24 L451.89,46.25 L452.15,46.25 L452.41,46.26 L452.67,46.26 L452.93,46.27 L453.19,46.28 L453.45,46.28 L453.70,46.29 L453.96,46.29 L454.22,46.30 L454.48,46.30 L454.74,46.31 L455.00,46.31 L455.26,46.32 L455.51,46.32 L455.77,46.33 L456.03,46.33 L456.29,46.34 L456.55,46.34 L456.81,46.35 L457.07,46.35 L457.32,46.36 L457.58,46.36 L457.84,46.37 L458.10,46.37 L458.36,46.38 L458.62,46.38 L458.88,46.38 L459.14,46.39 L459.39,46.39 L459.65,46.40 L459.91,46.40 L460.17,46.41 L460.43,46.41 L460.69,46.42 L460.95,46.42 L461.21,46.43 L461.46,46.43 L461.72,46.43 L461.98,46.44 L462.24,46.44 L462.50,46.45 L462.76,46.45 L463.02,46.46 L463.28,46.46 L463.54,46.47 L463.79,46.47 L464.05,46.47 L464.31,46.48 L464.57,46.48 L464.83,46.49 L465.09,46.49 L465.35,46.50 L465.61,46.50 L465.87,46.51 L466.13,46.51 L466.38,46.52 L466.64,46.52 L466.90,46.52 L467.16,46.53 L467.42,46.53 L467.68,46.54 L467.94,46.54 L468.20,46.55 L468.46,46.55 L468.72,46.56 L468.98,46.56 L469.23,46.57 L469.49,46.57 L469.75,46.58 L470.01,46.58 L470.27,46.59 L470.53,46.59 L470.79,46.60 L471.05,46.60 L471.31,46.61 L471.57,46.61 L471.83,46.62 L472.09,46.62 L472.35,46.63 L472.61,46.64 L472.86,46.64 L473.12,46.65 L473.38,46.65 L473.64,46.66 L473.90,46.66 L474.16,46.67 L474.42,46.68 L474.68,46.68 L474.94,46.69 L475.20,46.69 L475.46,46.70 L475.72,46.71 L475.98,46.71 L476.24,46.72 L476.50,46.73" stroke="#D95319"/>
</g>
<path d="M40.5,183.2 v-5 M40.5,9.5 v5 M112.5,183.2 v-5 M112.5,9.5 v5 M183.5,183.2 v-5 M183.5,9.5 v5 M255.5,183.2 v-5 M255.5,9.5 v5 M327.5,183.2 v-5 M327.5,9.5 v5 M398.5,183.2 v-5 M398.5,9.5 v5 M470.5,183.2 v-5 M470.5,9.5 v5 M542.5,183.2 v-5 M542.5,9.5 v5 M40.5,161.5 h5 M542.4,161.5 h-5 M40.5,117.6 h5 M542.4,117.6 h-5 M40.5,74.5 h5 M542.4,74.5 h-5 M40.5,31.0 h5 M542.4,31.0 h-5" stroke="#8c8c8c" stroke-width="1" fill="none"/>
<rect x="40.5" y="9.5" width="501.9" height="173.7" fill="none" stroke="#8c8c8c" stroke-width="1"/>
<g font-size="11" text-anchor="middle">
<text x="40.5" y="198.7">0</text>
<text x="112.2" y="198.7">1</text>
<text x="183.9" y="198.7">2</text>
<text x="255.6" y="198.7">3</text>
<text x="327.3" y="198.7">4</text>
<text x="399.0" y="198.7">5</text>
<text x="470.7" y="198.7">6</text>
<text x="542.4" y="198.7">7</text>
</g>
<g font-size="11" text-anchor="end">
<text x="35.8" y="165.5">3.6</text>
<text x="35.8" y="122.1">3.8</text>
<text x="35.8" y="78.6">4</text>
<text x="35.8" y="35.2">4.2</text>
</g>
<text x="291.3" y="215" font-size="12.5" text-anchor="middle">Time [hr]</text>
<text transform="translate(15.8,96.8) rotate(-90)" font-size="12.4" text-anchor="middle">Voltage [V]</text>
<path d="M338.2,226 L344.8,226 L341.5,233 Z" fill="#7db55a"/>
<rect x="426.5" y="104.5" width="105" height="70" fill="#fff" stroke="#8c8c8c" stroke-width="1"/>
<rect x="429" y="109.3" width="21.5" height="6.6" fill="#dcebd4"/>
<rect x="429" y="122.8" width="21.5" height="6.6" fill="#fdedc6"/>
<rect x="429" y="136.3" width="21.5" height="6.6" fill="#e3d9ef"/>
<path d="M429,153.1 H450.5" stroke="#0072BD" stroke-width="2"/>
<path d="M429,166.6 H450.5" stroke="#D95319" stroke-width="2"/>
<g font-size="10.3">
<text x="452" y="116.7">CC Charge</text>
<text x="452" y="130.2">CV Charge</text>
<text x="452" y="143.7">Rest</text>
<text x="452" y="157.2">C/2 Charge Data</text>
<text x="452" y="170.7">C/5 Charge Data</text>
</g>
<path d="M169.3,267.7 L224.5,273.7" stroke="#74aadb" stroke-width="1.15" fill="none"/>
<path d="M230.2,274.1 L224.1,271.6 L223.8,276.5 Z" fill="#0072BD"/>
<path d="M169,373.6 L249,332.5" stroke="#F0A478" stroke-width="1.1" fill="none"/>
<path d="M253.8,330 L246.6,330.3 L249.3,335.5 Z" fill="#E0703A"/>
<path d="M272.5,234.6 V382.0 M322.2,234.6 V382.0 M371.9,234.6 V382.0 M421.6,234.6 V382.0 M222.8,352.5 H471.3 M222.8,323.0 H471.3 M222.8,293.6 H471.3 M222.8,264.1 H471.3" stroke="#efefef" stroke-width="1" fill="none"/>
<g fill="none" stroke-linejoin="round" stroke-width="2">
<path d="M222.86,271.03 L222.84,271.93 L222.83,272.84 L222.82,273.76 L222.82,274.69 L222.82,275.62 L222.83,276.57 L222.85,277.52 L222.87,278.47 L222.90,279.43 L222.94,280.40 L222.99,281.37 L223.05,282.34 L223.12,283.31 L223.20,284.29 L223.29,285.27 L223.39,286.24 L223.50,287.22 L223.63,288.19 L223.77,289.16 L223.92,290.13 L224.08,291.10 L224.26,292.06 L224.46,293.02 L224.67,293.97 L224.89,294.91 L225.14,295.85 L225.39,296.78 L225.67,297.70 L225.96,298.61 L226.28,299.52 L226.61,300.41 L226.96,301.29 L227.33,302.15 L227.72,303.01 L228.13,303.85 L228.56,304.68 L229.02,305.49 L229.49,306.28 L229.99,307.06 L230.52,307.82 L231.06,308.57 L231.63,309.30 L232.22,310.01 L232.83,310.70 L233.46,311.37 L234.11,312.03 L234.78,312.67 L235.47,313.30 L236.17,313.91 L236.89,314.50 L237.63,315.08 L238.38,315.64 L239.14,316.18 L239.92,316.71 L240.72,317.22 L241.52,317.71 L242.34,318.19 L243.16,318.66 L244.00,319.11 L244.85,319.54 L245.70,319.96 L246.56,320.36 L247.43,320.75 L248.31,321.12 L249.19,321.48 L250.07,321.83 L250.96,322.16 L251.86,322.47 L252.76,322.78 L253.66,323.07 L254.57,323.35 L255.49,323.62 L256.40,323.87 L257.32,324.12 L258.24,324.36 L259.17,324.58 L260.10,324.80 L261.03,325.01 L261.96,325.22 L262.90,325.41 L263.84,325.60 L264.78,325.79 L265.72,325.96 L266.66,326.13 L267.61,326.30 L268.55,326.46 L269.50,326.62 L270.44,326.78 L271.39,326.93 L272.34,327.09 L273.29,327.24 L274.23,327.39 L275.18,327.53 L276.13,327.68 L277.08,327.82 L278.02,327.96 L278.97,328.11 L279.92,328.24 L280.87,328.38 L281.82,328.52 L282.76,328.65 L283.71,328.79 L284.66,328.92 L285.61,329.05 L286.55,329.18 L287.50,329.31 L288.45,329.44 L289.40,329.56 L290.34,329.68 L291.29,329.81 L292.24,329.93 L293.19,330.05 L294.14,330.17 L295.08,330.28 L296.03,330.40 L296.98,330.51 L297.93,330.63 L298.87,330.74 L299.82,330.85 L300.77,330.96 L301.72,331.07 L302.67,331.18 L303.61,331.28 L304.56,331.39 L305.51,331.49 L306.46,331.59 L307.41,331.69 L308.36,331.79 L309.30,331.89 L310.25,331.99 L311.20,332.08 L312.15,332.18 L313.10,332.27 L314.04,332.37 L314.99,332.46 L315.94,332.55 L316.89,332.64 L317.84,332.73 L318.79,332.81 L319.73,332.90 L320.68,332.98 L321.63,333.07 L322.58,333.15 L323.53,333.23 L324.48,333.32 L325.42,333.40 L326.37,333.47 L327.32,333.55 L328.27,333.63 L329.22,333.71 L330.17,333.78 L331.12,333.86 L332.06,333.93 L333.01,334.00 L333.96,334.07 L334.91,334.14 L335.86,334.21 L336.81,334.28 L337.76,334.35 L338.71,334.42 L339.65,334.48 L340.60,334.55 L341.55,334.61 L342.50,334.68 L343.45,334.74 L344.40,334.80 L345.35,334.86 L346.30,334.93 L347.25,334.99 L348.20,335.04 L349.14,335.10 L350.09,335.16 L351.04,335.22 L351.99,335.27 L352.94,335.33 L353.89,335.38 L354.84,335.44 L355.79,335.49 L356.74,335.54 L357.69,335.59 L358.64,335.65 L359.59,335.70 L360.54,335.75 L361.49,335.80 L362.44,335.85 L363.38,335.89 L364.33,335.94 L365.28,335.99 L366.23,336.03 L367.18,336.08 L368.13,336.13 L369.08,336.17 L370.03,336.21 L370.98,336.26 L371.93,336.30 L372.88,336.34 L373.83,336.39 L374.78,336.43 L375.73,336.47 L376.68,336.51 L377.63,336.55 L378.58,336.59 L379.53,336.63 L380.48,336.67 L381.43,336.71 L382.38,336.75 L383.33,336.78 L384.28,336.82 L385.23,336.86 L386.18,336.90 L387.13,336.93 L388.08,336.97 L389.03,337.00 L389.98,337.04 L390.94,337.07 L391.89,337.11 L392.84,337.14 L393.79,337.18 L394.74,337.21 L395.69,337.24 L396.64,337.28 L397.59,337.31 L398.54,337.34 L399.49,337.38 L400.44,337.41 L401.39,337.44 L402.34,337.47 L403.30,337.50 L404.25,337.54 L405.20,337.57 L406.15,337.60 L407.10,337.63 L408.05,337.66 L409.00,337.69 L409.95,337.72 L410.90,337.75 L411.86,337.78 L412.81,337.81 L413.76,337.85 L414.71,337.88 L415.66,337.91 L416.61,337.94 L417.56,337.97 L418.52,338.00 L419.47,338.03 L420.42,338.06 L421.37,338.09 L422.32,338.12 L423.27,338.15 L424.23,338.18 L425.18,338.21 L426.13,338.24 L427.08,338.27 L428.03,338.30 L428.99,338.33 L429.94,338.36 L430.89,338.39 L431.84,338.42 L432.79,338.45 L433.75,338.48 L434.70,338.52 L435.65,338.55 L436.60,338.58 L437.56,338.61 L438.51,338.64 L439.46,338.68 L440.41,338.71 L441.37,338.74 L442.32,338.77 L443.27,338.81 L444.22,338.84 L445.18,338.87 L446.13,338.91 L447.08,338.94 L448.04,338.98 L448.99,339.01 L449.94,339.04 L450.90,339.08 L451.85,339.12 L452.80,339.15 L453.76,339.19 L454.71,339.22 L455.66,339.26 L456.61,339.30 L457.57,339.34 L458.52,339.37 L459.48,339.41 L460.43,339.45 L461.38,339.49 L462.34,339.53 L463.29,339.57 L464.24,339.61 L465.20,339.65 L466.15,339.70 L467.11,339.74 L468.06,339.78 L469.01,339.82 L469.97,339.87 L470.92,339.91" stroke="#D95319"/>
<path d="M223.07,256.89 L223.03,258.27 L223.06,259.59 L223.15,260.85 L223.32,262.06 L223.55,263.22 L223.84,264.33 L224.19,265.39 L224.59,266.39 L225.05,267.35 L225.57,268.27 L226.13,269.13 L226.74,269.96 L227.40,270.74 L228.10,271.48 L228.84,272.18 L229.61,272.85 L230.43,273.47 L231.27,274.07 L232.15,274.63 L233.06,275.15 L233.99,275.65 L234.95,276.13 L235.93,276.58 L236.92,277.00 L237.94,277.41 L238.97,277.79 L240.01,278.16 L241.06,278.51 L242.12,278.85 L243.19,279.17 L244.26,279.49 L245.33,279.79 L246.40,280.09 L247.47,280.38 L248.54,280.67 L249.61,280.95 L250.68,281.22 L251.74,281.49 L252.81,281.75 L253.88,282.01 L254.95,282.25 L256.01,282.50 L257.08,282.74 L258.15,282.97 L259.21,283.20 L260.28,283.42 L261.34,283.64 L262.41,283.85 L263.47,284.06 L264.54,284.27 L265.61,284.47 L266.67,284.66 L267.74,284.86 L268.80,285.05 L269.87,285.23 L270.93,285.42 L272.00,285.60 L273.06,285.78 L274.13,285.95 L275.20,286.12 L276.26,286.29 L277.33,286.46 L278.40,286.63 L279.46,286.79 L280.53,286.95 L281.60,287.11 L282.67,287.27 L283.73,287.43 L284.80,287.58 L285.87,287.74 L286.94,287.89 L288.01,288.05 L289.08,288.20 L290.15,288.36 L291.23,288.51 L292.30,288.66 L293.37,288.82 L294.45,288.97 L295.52,289.13 L296.60,289.28 L297.67,289.44 L298.75,289.60 L299.82,289.76 L300.90,289.92 L301.98,290.08 L303.06,290.25 L304.14,290.41 L305.22,290.58 L306.30,290.75 L307.39,290.92 L308.47,291.10 L309.56,291.28 L310.64,291.46 L311.72,291.64 L312.81,291.83 L313.90,292.02 L314.98,292.21 L316.07,292.40 L317.15,292.60 L318.24,292.81 L319.32,293.01 L320.41,293.22 L321.49,293.43 L322.57,293.65 L323.66,293.87 L324.74,294.10 L325.82,294.33 L326.90,294.56 L327.98,294.80 L329.06,295.04 L330.13,295.29 L331.21,295.54 L332.28,295.80 L333.35,296.06 L334.42,296.33 L335.49,296.60 L336.56,296.87 L337.62,297.16 L338.69,297.45 L339.75,297.74 L340.80,298.04 L341.86,298.34 L342.91,298.65 L343.97,298.97 L345.01,299.29 L346.06,299.62 L347.10,299.96 L348.14,300.30 L349.18,300.65 L350.21,301.00 L351.24,301.37 L352.27,301.73 L353.29,302.11 L354.31,302.49 L355.33,302.88 L356.34,303.28 L357.35,303.68 L358.36,304.10 L359.36,304.52 L360.35,304.94 L361.35,305.38 L362.34,305.82 L363.32,306.27 L364.30,306.73 L365.27,307.20 L366.24,307.68 L367.21,308.16 L368.17,308.65 L369.13,309.15 L370.08,309.66 L371.03,310.18 L371.97,310.70 L372.91,311.23 L373.85,311.76 L374.78,312.31 L375.71,312.86 L376.64,313.41 L377.56,313.97 L378.48,314.54 L379.39,315.12 L380.31,315.70 L381.22,316.28 L382.12,316.87 L383.03,317.47 L383.93,318.07 L384.83,318.68 L385.72,319.29 L386.61,319.90 L387.50,320.52 L388.39,321.14 L389.28,321.77 L390.16,322.40 L391.05,323.04 L391.93,323.67 L392.81,324.31 L393.68,324.96 L394.56,325.61 L395.43,326.26 L396.30,326.91 L397.18,327.56 L398.05,328.22 L398.92,328.88 L399.78,329.54 L400.65,330.20 L401.52,330.87 L402.38,331.53 L403.25,332.20 L404.12,332.86 L404.98,333.53 L405.84,334.20 L406.71,334.87 L407.57,335.54 L408.44,336.21 L409.30,336.88 L410.17,337.55 L411.03,338.22 L411.90,338.89 L412.76,339.55 L413.63,340.22 L414.50,340.88 L415.37,341.55 L416.24,342.21 L417.11,342.87 L417.98,343.53 L418.85,344.19 L419.73,344.84 L420.60,345.49 L421.48,346.14 L422.36,346.79 L423.24,347.43 L424.12,348.07 L425.01,348.71 L425.89,349.35 L426.78,349.98 L427.67,350.61 L428.57,351.23 L429.46,351.85 L430.36,352.47 L431.26,353.08 L432.16,353.69 L433.07,354.29 L433.97,354.89 L434.88,355.48 L435.80,356.07 L436.71,356.66 L437.63,357.24 L438.56,357.81 L439.48,358.38 L440.41,358.94 L441.34,359.50 L442.28,360.05 L443.21,360.60 L444.16,361.14 L445.10,361.67 L446.05,362.20 L447.00,362.72 L447.96,363.24 L448.92,363.75 L449.89,364.25 L450.86,364.75 L451.83,365.23 L452.80,365.71 L453.79,366.19 L454.77,366.65 L455.76,367.11 L456.76,367.56 L457.75,368.01 L458.76,368.44 L459.77,368.87 L460.78,369.29 L461.80,369.70 L462.82,370.10 L463.85,370.49 L464.88,370.87 L465.92,371.25 L466.96,371.62 L468.01,371.97 L469.06,372.32 L470.12,372.66" stroke="#0072BD"/>
</g>
<path d="M222.8,382.0 v-3 M222.8,234.6 v3 M272.5,382.0 v-3 M272.5,234.6 v3 M322.2,382.0 v-3 M322.2,234.6 v3 M371.9,382.0 v-3 M371.9,234.6 v3 M421.6,382.0 v-3 M421.6,234.6 v3 M471.3,382.0 v-3 M471.3,234.6 v3 M222.8,382.0 h3 M471.3,382.0 h-3 M222.8,352.5 h3 M471.3,352.5 h-3 M222.8,323.0 h3 M471.3,323.0 h-3 M222.8,293.6 h3 M471.3,293.6 h-3 M222.8,264.1 h3 M471.3,264.1 h-3 M222.8,234.6 h3 M471.3,234.6 h-3" stroke="#999" stroke-width="1" fill="none"/>
<rect x="222.6" y="234.5" width="248.8" height="147.5" fill="none" stroke="#80b85d" stroke-width="1.3"/>
<g font-size="12" text-anchor="middle">
<text x="222.0" y="398.8">0</text>
<text x="271.7" y="398.8">0.2</text>
<text x="321.4" y="398.8">0.4</text>
<text x="371.1" y="398.8">0.6</text>
<text x="420.8" y="398.8">0.8</text>
<text x="470.5" y="398.8">1</text>
</g>
<g font-size="12" text-anchor="end">
<text x="217.6" y="387.8">4.1</text>
<text x="217.6" y="358.3">4.12</text>
<text x="217.6" y="328.8">4.14</text>
<text x="217.6" y="299.4">4.16</text>
<text x="217.6" y="269.9">4.18</text>
<text x="217.6" y="240.4">4.2</text>
</g>
<text x="346.8" y="416.4" font-size="14" text-anchor="middle">Time [hr]</text>
<text transform="translate(188,308.4) rotate(-90)" font-size="13.6" text-anchor="middle">Voltage [V]</text>
<rect x="417.5" y="240.5" width="48" height="31.8" fill="#fff" stroke="#8c8c8c" stroke-width="1"/>
<path d="M419.8,249.1 H443" stroke="#0072BD" stroke-width="2"/>
<path d="M419.8,263.8 H443" stroke="#D95319" stroke-width="2"/>
<g font-size="11"><text x="444.5" y="253.1">C/2</text><text x="444.5" y="267.8">C/5</text></g>
<g font-size="14" class="ann">
<text x="67.3" y="260" textLength="78" lengthAdjust="spacingAndGlyphs">Voltage plateau</text>
<text x="67.3" y="276.5" textLength="93.5" lengthAdjust="spacingAndGlyphs">associated with Li-</text>
<text x="67.3" y="292.8" textLength="42.5" lengthAdjust="spacingAndGlyphs">stripping</text>
<text x="67.6" y="352.9" textLength="74" lengthAdjust="spacingAndGlyphs">Typical settling</text>
<text x="67.6" y="369.3" textLength="82" lengthAdjust="spacingAndGlyphs">behavior without</text>
<text x="67.6" y="385.9" textLength="94" lengthAdjust="spacingAndGlyphs">the presence of Li-</text>
<text x="67.6" y="402.7" textLength="41.5" lengthAdjust="spacingAndGlyphs">stripping</text>
</g>
</svg></body></html>
